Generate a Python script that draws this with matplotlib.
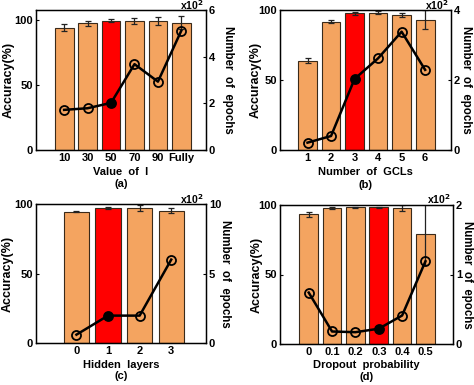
import matplotlib
matplotlib.use("Agg")
import matplotlib.pyplot as plt
import numpy as np

plt.rcParams['font.family'] = ['Liberation Sans', 'DejaVu Sans']
plt.rcParams['font.weight'] = 'bold'
plt.rcParams['font.size'] = 8
plt.rcParams['mathtext.default'] = 'bf'

# Panel (a)
a_labels = ['10', '30', '50', '70', '90', 'Fully']
a_acc = [94.1, 97.4, 99.4, 99.2, 99.5, 98.0]
a_err = [2.5, 2.0, 1.0, 2.0, 3.0, 5.0]
a_epochs = [1.72, 1.79, 2.02, 3.68, 2.93, 5.12]

# Panel (b)
b_labels = ['1', '2', '3', '4', '5', '6']
b_acc = [63.8, 91.7, 97.6, 98.1, 96.2, 92.9]
b_err = [2.0, 1.0, 1.0, 1.0, 1.5, 6.8]
b_epochs = [0.21, 0.40, 2.03, 2.62, 3.38, 2.29]

# Panel (c)
c_labels = ['0', '1', '2', '3']
c_acc = [94.5, 97.1, 97.1, 95.2]
c_err = [0.5, 1.0, 2.0, 2.0]
c_epochs = [0.6, 1.97, 1.97, 6.0]

# Panel (d)
d_labels = ['0', '0.1', '0.2', '0.3', '0.4', '0.5']
d_acc = [93.3, 98.0, 98.3, 98.3, 98.0, 78.8]
d_err = [2.0, 0.6, 0.6, 0.6, 2.0, 22.0]
d_epochs = [0.74, 0.18, 0.17, 0.22, 0.41, 1.19]

ORANGE = '#F4A460'
RED = '#FF0000'
W, H = 474, 385

panels = [
    dict(labels=a_labels, acc=a_acc, err=a_err, ep=a_epochs, hi=2,
         rect=(36, 10, 206, 150), xlim=(-1.2, 6.05), ylim=(0, 107.7), ylim2=(0, 6),
         yticks2=[0, 2, 4, 6], xlabel='Value  of  l', tag='(a)',
         xl_y=-0.16, tag_y=-0.245, yl_x=-0.124, yl2_x=1.165),
    dict(labels=b_labels, acc=b_acc, err=b_err, ep=b_epochs, hi=2,
         rect=(280, 10, 451, 150), xlim=(-1.17, 6.1), ylim=(0, 100), ylim2=(0, 4),
         yticks2=[0, 2, 4], xlabel='Number  of  GCLs', tag='(b)',
         xl_y=-0.16, tag_y=-0.25, yl_x=-0.105, yl2_x=1.125),
    dict(labels=c_labels, acc=c_acc, err=c_err, ep=c_epochs, hi=1,
         rect=(36, 204, 206, 343), xlim=(-1.28, 4.1), ylim=(0, 100), ylim2=(0, 10),
         yticks2=[0, 5, 10], xlabel='Hidden  layers', tag='(c)',
         xl_y=-0.155, tag_y=-0.24, yl_x=-0.13, yl2_x=1.147),
    dict(labels=d_labels, acc=d_acc, err=d_err, ep=d_epochs, hi=3,
         rect=(280, 205, 453, 344), xlim=(-1.23, 6.18), ylim=(0, 100), ylim2=(0, 2),
         yticks2=[0, 1, 2], xlabel='Dropout  probability', tag='(d)',
         xl_y=-0.15, tag_y=-0.24, yl_x=-0.098, yl2_x=1.118),
]

fig = plt.figure(figsize=(W / 100, H / 100), dpi=100)

for p in panels:
    l, t, r, b = p['rect']
    ax = fig.add_axes([l / W, 1 - b / H, (r - l) / W, (b - t) / H])
    n = len(p['labels'])
    x = np.arange(n)
    colors = [RED if i == p['hi'] else ORANGE for i in range(n)]
    ax.bar(x, p['acc'], width=0.8, color=colors, edgecolor='#3a2a1a', linewidth=0.8, zorder=2)
    ax.errorbar(x, p['acc'], yerr=p['err'], fmt='none', ecolor='#222222',
                elinewidth=0.9, capsize=2, capthick=0.9, zorder=3)
    ax.set_xlim(*p['xlim'])
    ax.set_ylim(*p['ylim'])
    ax.set_yticks([0, 50, 100])
    ax.set_xticks(x)
    ax.set_xticklabels(p['labels'])
    ax.tick_params(direction='in', length=2, width=0.8, pad=2, labelsize=8)
    ax.set_ylabel('Accuracy(%)', fontweight='bold', fontsize=9)
    ax.yaxis.set_label_coords(p['yl_x'], 0.5)
    ax.text(0.5, p['xl_y'], p['xlabel'], transform=ax.transAxes, ha='center', va='center',
            fontweight='bold', fontsize=8)
    ax.text(0.5, p['tag_y'], p['tag'], transform=ax.transAxes, ha='center', va='center',
            fontweight='bold', fontsize=8)
    for s in ax.spines.values():
        s.set_linewidth(1.0)

    ax2 = ax.twinx()
    ax2.plot(x, p['ep'], color='black', linewidth=1.8, zorder=4)
    mfc = ['black' if i == p['hi'] else 'none' for i in range(n)]
    for i in range(n):
        ax2.plot(x[i], p['ep'][i], marker='o', markersize=6.5, markeredgewidth=1.3,
                 markeredgecolor='black', markerfacecolor=mfc[i], zorder=5)
    ax2.set_ylim(*p['ylim2'])
    ax2.set_yticks(p['yticks2'])
    ax2.tick_params(direction='in', length=2, width=0.8, pad=2, labelsize=8)
    ax2.set_ylabel('Number  of  epochs', rotation=270, fontweight='bold', fontsize=8.3)
    ax2.yaxis.set_label_coords(p['yl2_x'], 0.5)
    ax2.text(0.985, 1 + 0.5 / (b - t), r'x10$^{2}$', transform=ax2.transAxes, ha='right',
             va='baseline', fontweight='bold', fontsize=7.5)

fig.savefig('out.png', dpi=100)
